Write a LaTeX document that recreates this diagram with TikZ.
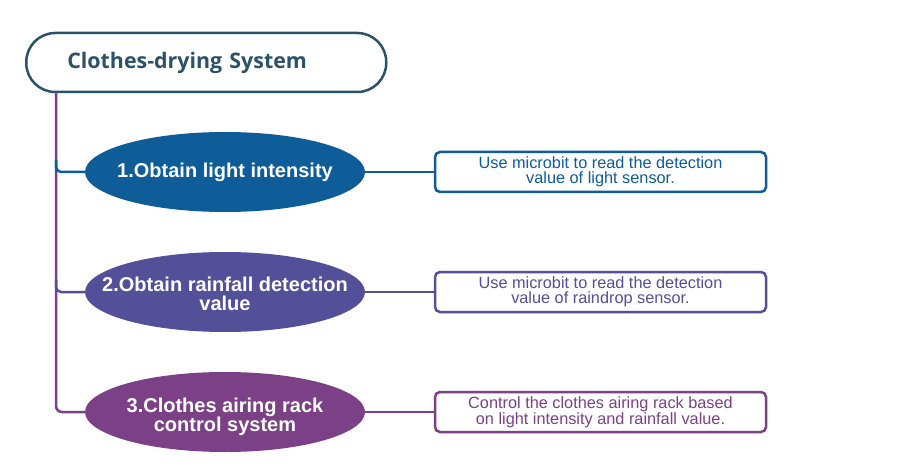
\documentclass[tikz,border=0pt]{standalone}
\usepackage{fontspec}
\setmainfont{Liberation Sans}
\newfontfamily\titlefont{Open Sans}
\usetikzlibrary{shapes.geometric}
\definecolor{cA}{HTML}{0E5C98}
\definecolor{cB}{HTML}{534F98}
\definecolor{cC}{HTML}{7B4085}
\definecolor{cT}{HTML}{2B5269}
\newcommand{\elltext}[2][-5pt]{\makebox[150pt]{\raisebox{#1}[0pt][0pt]{\begin{tabular}{@{}c@{}}#2\end{tabular}}}}
\tikzset{
  ell/.style={ellipse, minimum width=280pt, minimum height=80pt, inner sep=0pt, fill=#1, text=white, font=\bfseries\fontsize{20}{16}\selectfont},
  infobox/.style={draw=#1, line width=2.5pt, rounded corners=5pt, minimum width=331pt, minimum height=40pt, inner sep=0pt, text=#1, font=\fontsize{16.3}{15}\selectfont, align=center},
  link/.style={draw=#1, line width=2.5pt},
}
\begin{document}
\begin{tikzpicture}[x=1pt,y=-1pt]
\useasboundingbox (0,0) rectangle (918,473);
\node[draw=cT, line width=2.5pt, rounded corners=29pt, minimum height=59pt, text width=278pt, inner xsep=41pt, inner ysep=0pt, align=left, anchor=west, text=cT, font=\titlefont\bfseries\fontsize{21.4}{24}\selectfont] (title) at (25,62.5) {Clothes-drying System};
\coordinate (trunk) at (56,92);
\coordinate (j1) at (56,160);
\coordinate (j2) at (56,280);
\node[ell=cA] (e1) at (225,172) {\elltext[-6pt]{1.Obtain light intensity}};
\node[ell=cB] (e2) at (225,292) {\elltext[-9pt]{2.Obtain rainfall detection\\value}};
\node[ell=cC] (e3) at (225,412) {\elltext[-10pt]{3.Clothes airing rack\\control system}};
\node[infobox=cA] (b1) at (600.5,172) {Use microbit to read the detection\\value of light sensor.};
\node[infobox=cB] (b2) at (600.5,292) {Use microbit to read the detection\\value of raindrop sensor.};
\node[infobox=cC] (b3) at (600.5,412) {Control the clothes airing rack based\\on light intensity and rainfall value.};
\draw[link=cC, rounded corners=6pt] (trunk) |- (e3.west);
\draw[link=cA, rounded corners=5pt] (j1) |- (e1.west);
\draw[link=cB, rounded corners=5pt] (j2) |- (e2.west);
\draw[link=cC] (trunk) -- (j1);
\draw[link=cA] (e1.east) -- (b1.west);
\draw[link=cB] (e2.east) -- (b2.west);
\draw[link=cC] (e3.east) -- (b3.west);
\end{tikzpicture}
\end{document}
